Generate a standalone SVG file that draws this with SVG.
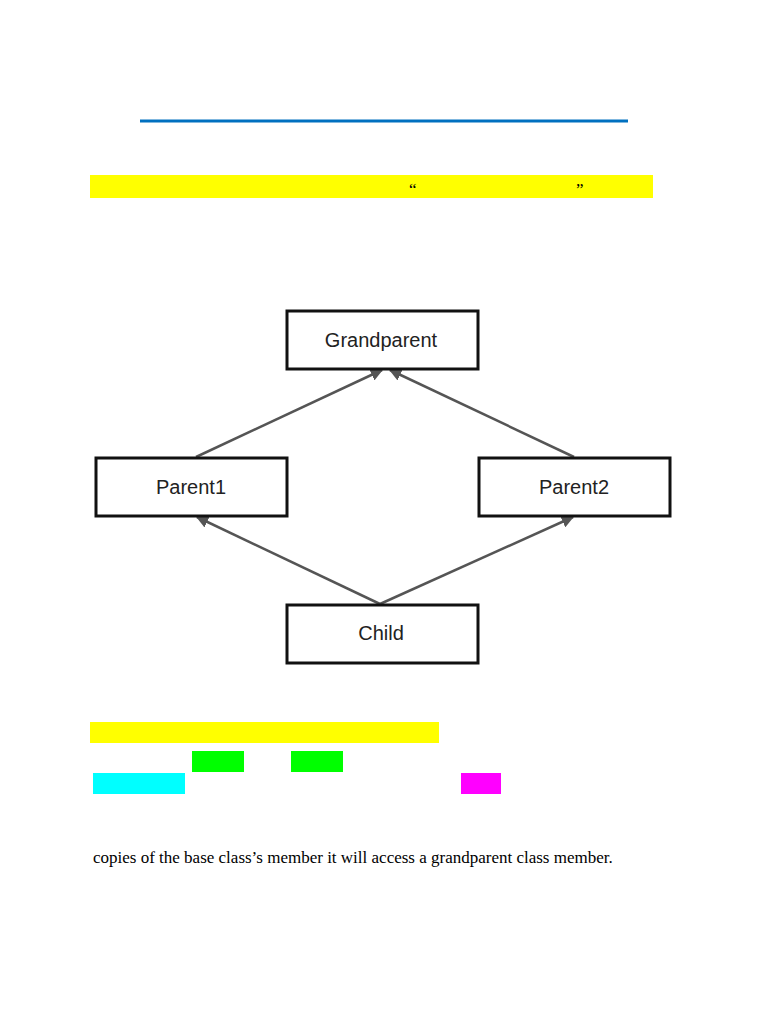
<svg xmlns="http://www.w3.org/2000/svg" width="768" height="1024" viewBox="0 0 768 1024">
<style>
.box{fill:#fff;stroke:#111;stroke-width:3}
.lbl{font-family:"Liberation Sans",Arial,sans-serif;font-size:20px;fill:#222;text-anchor:middle}
.ln{stroke:#555;stroke-width:2.5;fill:none;marker-end:url(#ah)}
.ser{font-family:"Liberation Serif","Times New Roman",serif;font-size:17px;fill:#000}
</style>
<defs>
<marker id="ah" viewBox="0 0 10 10" refX="9" refY="5" markerWidth="5" markerHeight="5" orient="auto"><path d="M0,0L10,5L0,10z" fill="#555"/></marker>
</defs>
<rect width="768" height="1024" fill="#fff"/>
<line x1="140" y1="121" x2="628" y2="121" stroke="#0070c0" stroke-width="3"/>
<rect x="90" y="175" width="563" height="23" fill="#ffff00"/>
<text class="ser" x="409" y="195">“</text>
<text class="ser" x="576" y="195">”</text>
<g id="connectors">
<line class="ln" x1="196" y1="457" x2="382" y2="370"/>
<line class="ln" x1="574" y1="457" x2="390" y2="370"/>
<line class="ln" x1="380" y1="604" x2="197" y2="517"/>
<line class="ln" x1="380" y1="604" x2="573" y2="517"/>
</g>
<g id="grandparent"><rect class="box" x="287" y="311" width="191" height="58"/><text class="lbl" x="381" y="347">Grandparent</text></g>
<g id="parent1"><rect class="box" x="96" y="458" width="191" height="58"/><text class="lbl" x="191" y="494">Parent1</text></g>
<g id="parent2"><rect class="box" x="479" y="458" width="191" height="58"/><text class="lbl" x="574" y="494">Parent2</text></g>
<g id="child"><rect class="box" x="287" y="605" width="191" height="58"/><text class="lbl" x="381" y="640">Child</text></g>
<rect x="90" y="722" width="349" height="21" fill="#ffff00"/>
<rect x="192" y="751" width="52" height="21" fill="#00ff00"/>
<rect x="291" y="751" width="52" height="21" fill="#00ff00"/>
<rect x="93" y="773" width="92" height="21" fill="#00ffff"/>
<rect x="461" y="773" width="40" height="21" fill="#ff00ff"/>
<text class="ser" x="93" y="863">copies of the base class’s member it will access a grandparent class member.</text>
</svg>
